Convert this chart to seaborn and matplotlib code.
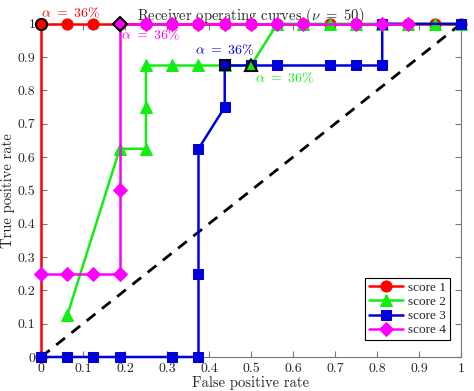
import pandas as pd
import matplotlib
matplotlib.use("Agg")
import matplotlib.pyplot as plt
import seaborn as sns

# ROC curves (fpr steps of 1/16, tpr steps of 1/8)
x_score1 = [0, 0, 0.0625, 0.125, 0.1875, 0.25, 0.3125, 0.375, 0.4375, 0.5, 0.5625,
            0.625, 0.6875, 0.75, 0.8125, 0.875, 0.9375, 1]
y_score1 = [0, 1, 1, 1, 1, 1, 1, 1, 1, 1, 1, 1, 1, 1, 1, 1, 1, 1]

x_score2 = [0.0625, 0.1875, 0.25, 0.25, 0.25, 0.3125, 0.375, 0.4375, 0.5, 0.5625,
            0.625, 0.6875, 0.75, 0.8125, 0.875, 0.9375, 1]
y_score2 = [0.125, 0.625, 0.625, 0.75, 0.875, 0.875, 0.875, 0.875, 0.875, 1,
            1, 1, 1, 1, 1, 1, 1]

x_score3 = [0, 0.0625, 0.125, 0.1875, 0.3125, 0.375, 0.375, 0.375, 0.4375, 0.4375,
            0.5, 0.5625, 0.6875, 0.75, 0.8125, 0.8125, 1]
y_score3 = [0, 0, 0, 0, 0, 0, 0.25, 0.625, 0.75, 0.875,
            0.875, 0.875, 0.875, 0.875, 0.875, 1, 1]

x_score4 = [0, 0.0625, 0.125, 0.1875, 0.1875, 0.1875, 0.25, 0.3125, 0.375, 0.4375,
            0.5, 0.5625, 0.625, 0.75, 0.8125, 0.875]
y_score4 = [0.25, 0.25, 0.25, 0.25, 0.5, 1, 1, 1, 1, 1, 1, 1, 1, 1, 1, 1]

# operating points at alpha = 36%
alpha_x = [0, 0.5, 0.4375, 0.1875]
alpha_y = [1, 0.875, 0.875, 1]

labels = ["score 1", "score 2", "score 3", "score 4"]
colors = ["#ff0000", "#11ee11", "#0000dd", "#ff00ff"]
markers = ["o", "^", "s", "D"]
msizes = [8, 8, 7, 7]

sns.set_style("ticks")
plt.rcParams["font.family"] = ["cmr10", "DejaVu Serif"]
plt.rcParams["mathtext.fontset"] = "cm"
plt.rcParams["axes.formatter.use_mathtext"] = True
plt.rcParams["axes.unicode_minus"] = False

fig = plt.figure(figsize=(4.74, 3.91), dpi=100)
ax = fig.add_axes([0.0865, 0.087, 0.886, 0.852])

curves = [(x_score1, y_score1), (x_score2, y_score2),
          (x_score3, y_score3), (x_score4, y_score4)]
for i, (xs, ys) in enumerate(curves):
    df = pd.DataFrame({"fpr": xs, "tpr": ys})
    sns.lineplot(data=df, x="fpr", y="tpr", estimator=None, sort=False, ax=ax,
                 color=colors[i], marker=markers[i], markersize=msizes[i],
                 markeredgecolor=colors[i], linewidth=1.8, label=labels[i],
                 clip_on=False, zorder=3 + i)

# chance line
ax.plot([0, 1], [0, 1], ls=(0, (4, 3)), color="black", lw=2, zorder=2)

offsets = [(0, 8, "left"), (3, -9, "left"), (0, 11, "center"), (1, -8, "left")]
for i in range(4):
    ax.plot(alpha_x[i], alpha_y[i], marker=markers[i], ms=msizes[i],
            mfc=colors[i], mec="black", mew=1.5, ls="none", clip_on=False, zorder=10)
    dx, dy, ha = offsets[i]
    ax.annotate(r"$\alpha\ =\ 36\%$", (alpha_x[i], alpha_y[i]), xytext=(dx, dy),
                textcoords="offset points", ha=ha, va="center",
                color=colors[i], fontsize=10, zorder=11)

ax.set_xlim(0, 1)
ax.set_ylim(0, 1)
ticks = [0, 0.1, 0.2, 0.3, 0.4, 0.5, 0.6, 0.7, 0.8, 0.9, 1]
tick_labels = ["0", "0.1", "0.2", "0.3", "0.4", "0.5", "0.6", "0.7", "0.8", "0.9", "1"]
ax.set_xticks(ticks)
ax.set_xticklabels(tick_labels)
ax.set_yticks(ticks)
ax.set_yticklabels(tick_labels)
ax.tick_params(direction="in", top=True, right=True, length=4, color="#777777",
               labelsize=10, pad=4)
for sp in ax.spines.values():
    sp.set_color("#777777")
    sp.set_linewidth(0.8)

ax.set_xlabel("False positive rate", fontsize=10.5, labelpad=1)
ax.set_ylabel("True positive rate", fontsize=10.5, labelpad=2)
ax.set_title(r"Receiver operating curves ($\nu\ =\ 50$)", fontsize=10.5, pad=3)

leg = ax.legend(loc="lower right", bbox_to_anchor=(0.99, 0.03), fancybox=False,
                edgecolor="black", framealpha=1, handlelength=2.6,
                prop={"family": "Liberation Serif", "size": 9.5},
                borderpad=0.3, labelspacing=0.15, handletextpad=0.4)
leg.get_frame().set_linewidth(0.8)

fig.savefig("out.png", dpi=100)
